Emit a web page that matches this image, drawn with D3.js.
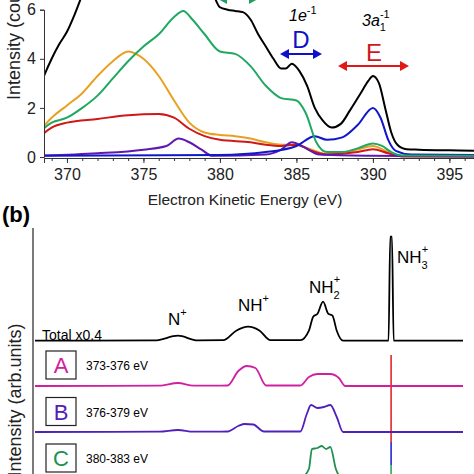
<!DOCTYPE html><html><head><meta charset="utf-8">
<script src="https://cdn.jsdelivr.net/npm/d3@7"></script>
<style>body{margin:0;background:#fff}svg{font-family:"Liberation Sans",Arial,sans-serif}</style>
</head><body><svg id="c" width="474" height="474"></svg>
<script>
// ---- panel (a) data: electron kinetic energy (eV) vs intensity
const xTicksA=[370,375,380,385,390,395];
const yTicksA=[0,2,4,6];
const black=[[368,2.5],[368.5,3.3],[369,4.0],[369.5,4.6],[370,5.1],[370.5,5.8],[371,6.6],[372,8],[376,10],[379,8],[379.6,6.6],[380,6.1],[380.5,6.0],[381,5.95],[381.5,5.9],[382,5.6],[382.5,5.0],[383,4.5],[383.5,4.0],[384,3.6],[384.3,3.6],[384.7,3.8],[385.2,3.5],[385.7,2.9],[386.2,2.0],[386.7,1.5],[387.3,1.2],[387.9,1.35],[388.5,1.9],[389.2,2.6],[389.7,3.1],[390,3.3],[390.4,3.0],[390.8,2.0],[391.2,1.0],[391.6,0.5],[392.2,0.32],[393,0.3],[395,0.27],[397,0.25]];
const green=[[368,0.9],[369,1.4],[370,1.6],[371,2.0],[372,2.5],[373,3.2],[374,3.9],[375,4.5],[376,5.0],[377,5.7],[377.6,5.95],[378.2,5.6],[379,5.0],[380,4.3],[381,4.2],[382,3.7],[383,2.9],[384,2.4],[385,2.3],[385.6,1.8],[386.3,0.6],[387,0.2],[388,0.2],[389,0.35],[390,0.55],[390.6,0.45],[391.2,0.2],[392,0.06],[397,0.05]];
const orange=[[368,0.9],[369,1.6],[370,2.1],[371,2.6],[372,3.3],[373,3.9],[374,4.3],[375,4.0],[376,3.3],[377,2.3],[378,1.4],[379,1.0],[380,0.9],[381,0.85],[382,0.75],[383,0.6],[384,0.5],[385,0.5],[386,0.3],[387,0.12],[388,0.15],[389,0.3],[390,0.45],[391,0.2],[392,0.03],[397,0.02]];
const red=[[368,0.7],[369,1.2],[370,1.4],[372,1.55],[374,1.7],[376,1.75],[377,1.6],[378,1.15],[379,0.85],[380,0.7],[382,0.6],[383,0.5],[384,0.45],[385,0.5],[386,0.25],[387,0.1],[389,0.2],[390,0.32],[391,0.15],[392,0.02],[397,0.02]];
const purple=[[368,0.05],[372,0.15],[375,0.3],[376.5,0.45],[377.3,0.75],[378,0.6],[378.8,0.3],[379.5,0.05],[383,0.1],[384,0.3],[384.7,0.6],[385.5,0.4],[386.5,0.1],[390,0.05],[397,0.02]];
const blue=[[368,0.05],[380,0.08],[383,0.2],[385,0.45],[386.2,0.85],[387,0.7],[388,0.8],[389,1.3],[390,2.0],[390.5,1.6],[391,0.7],[391.5,0.25],[392.5,0.1],[397,0.08]];
const seriesA=[{d:black,c:"#000"},{d:orange,c:"#e8a020"},{d:red,c:"#d01818"},{d:purple,c:"#6018b0"},{d:blue,c:"#1018c8"},{d:green,c:"#20a860"}];
// ---- panel (b) data: flight time (arb.) vs intensity (arb.), offset traces
const total=[[0,0],[28,0.3],[33.4,5],[38,0.3],[44,0.5],[47,10],[49.8,14],[52.5,10],[55,0.5],[62,0.5],[64,10],[65,24],[66,27],[67.3,39],[68.5,27],[69.5,25],[70.5,10],[72,0],[82.6,0],[83,104],[83.4,104],[83.8,0],[100,0]];
const traceA=[[0,0],[29,0.3],[33.4,3],[37,0.3],[45,0.5],[47.5,15],[49.5,20],[51.5,18],[54,0.5],[62,0.5],[64,9],[66,12],[69,12],[71,8],[72.5,0],[100,0]];
const traceB=[[0,0],[29,0.3],[33.4,2],[37,0.3],[45,0.5],[47.5,6],[49,8],[51,7.5],[53.5,0.5],[62,0.5],[63.5,18],[64.5,27],[66,24],[67.5,25],[69,27],[70.5,15],[72,0],[100,0]];
const traceC=[[62,0],[64,10],[64.7,30],[66,31],[67,33],[68,30],[69,32],[70.3,10],[71.5,0]];
const tracesB=[{d:total,c:"#000",base:0},{d:traceA,c:"#d020a0",base:1},{d:traceB,c:"#5020b8",base:2},{d:traceC,c:"#209050",base:3}];
const baseLines=[340.7,386,432,479];
const labelsB=[{t:"A",c:"#d020a0",r:"373-376 eV"},{t:"B",c:"#5020b8",r:"376-379 eV"},{t:"C",c:"#209050",r:"380-383 eV"}];
const nh3Segs=[{y0:355,y1:442,c:"#e01818"},{y0:442,y1:465,c:"#1818d0"},{y0:465,y1:474,c:"#20a050"}];
const ionLab=[{b:"N",s:"",x:168,y:325},{b:"NH",s:"",x:238,y:311},{b:"NH",s:"2",x:309,y:293},{b:"NH",s:"3",x:397,y:263}];

const svg=d3.select("#c");
const x=d3.scaleLinear().domain([368.5,397]).range([44,480]);
const y=d3.scaleLinear().domain([0,6]).range([157,9.7]);
const ga=svg.append("g");
ga.append("clipPath").attr("id","ca").append("rect").attr("x",44).attr("y",0).attr("width",430).attr("height",158);
const line=d3.line().x(d=>x(d[0])).y(d=>y(d[1])).curve(d3.curveMonotoneX);
seriesA.forEach(s=>ga.append("path").attr("d",line(s.d)).attr("fill","none").attr("stroke",s.c).attr("stroke-width",2).attr("clip-path","url(#ca)"));
ga.append("g").attr("transform","translate(0,158)").call(d3.axisBottom(x).tickValues(xTicksA).tickSize(5).tickPadding(6).tickFormat(d3.format("d")));
ga.append("g").attr("transform","translate(0,158)").call(d3.axisBottom(x).ticks(29).tickSize(3).tickFormat(""));
ga.append("g").attr("transform","translate(44,0)").call(d3.axisLeft(y).tickValues(yTicksA).tickSize(4).tickPadding(4).tickFormat(d3.format("d")));
ga.selectAll(".domain,.tick line").attr("stroke","#333");
ga.selectAll(".tick text").attr("font-size",16).attr("fill","#222");
ga.append("text").attr("x",245).attr("y",205).attr("text-anchor","middle").attr("font-size",15.5).attr("fill","#222").text("Electron Kinetic Energy (eV)");
ga.append("text").attr("transform","translate(20,100) rotate(-90)").attr("font-size",18).attr("fill","#222").text("Intensity (counts)");
const ann=ga.append("g");
ann.append("text").attr("x",289).attr("y",21).attr("font-size",16).attr("font-style","italic").html('1<tspan>e</tspan><tspan dy="-7" font-size="11" font-style="normal">-1</tspan>');
ann.append("text").attr("x",362).attr("y",26).attr("font-size",16).attr("font-style","italic").html('3a<tspan dy="5" font-size="11" font-style="normal">1</tspan><tspan dx="-6" dy="-13" font-size="11" font-style="normal">-1</tspan>');
ann.append("text").attr("x",301).attr("y",48).attr("text-anchor","middle").attr("font-size",24).attr("fill","#1010c8").text("D");
ann.append("text").attr("x",374).attr("y",61).attr("text-anchor","middle").attr("font-size",24).attr("fill","#d01818").text("E");
function arrow(x1,x2,yy,c){ann.append("line").attr("x1",x1+6).attr("x2",x2-6).attr("y1",yy).attr("y2",yy).attr("stroke",c).attr("stroke-width",2);
 ann.append("path").attr("d",`M${x1},${yy}l9,-5v10z`).attr("fill",c);ann.append("path").attr("d",`M${x2},${yy}l-9,-5v10z`).attr("fill",c);}
arrow(280,322,54,"#1010c8");arrow(338,409,66,"#e01818");arrow(218,258,-1,"#20a060");
svg.append("text").attr("x",2).attr("y",222).attr("font-size",22).attr("font-weight","bold").text("(b)");
const xb=d3.scaleLinear().domain([0,100]).range([35,463]);
const yb=d3.scaleLinear().domain([0,1]).range([0,-1]);
const gb=svg.append("g");
gb.append("line").attr("x1",33).attr("x2",33).attr("y1",228).attr("y2",474).attr("stroke","#222").attr("stroke-width",1.2);
nh3Segs.forEach(s=>gb.append("line").attr("x1",xb(83.2)).attr("x2",xb(83.2)).attr("y1",s.y0).attr("y2",s.y1).attr("stroke",s.c).attr("stroke-width",1.5));
tracesB.forEach(s=>{const b=baseLines[s.base];
 gb.append("path").attr("d",d3.line().x(d=>xb(d[0])).y(d=>b+yb(d[1])).curve(d3.curveMonotoneX)(s.d)).attr("fill","none").attr("stroke",s.c).attr("stroke-width",1.8);});
gb.append("text").attr("x",42).attr("y",340).attr("font-size",14).text("Total x0.4");
ionLab.forEach(l=>{const t=gb.append("text").attr("x",l.x).attr("y",l.y).attr("font-size",17);
 t.append("tspan").text(l.b);
 if(l.s){t.append("tspan").attr("dy",6).attr("font-size",11).text(l.s);t.append("tspan").attr("dx",-6).attr("dy",-16).attr("font-size",11).text("+");}
 else t.append("tspan").attr("dy",-9).attr("font-size",11).text("+");});
labelsB.forEach((l,i)=>{const top=351+i*46.5;
 gb.append("rect").attr("x",46).attr("y",top).attr("width",30).attr("height",28).attr("fill","#fff").attr("stroke","#222").attr("stroke-width",1.2);
 gb.append("text").attr("x",61).attr("y",top+22).attr("text-anchor","middle").attr("font-size",22).attr("fill",l.c).text(l.t);
 gb.append("text").attr("x",86).attr("y",top+19).attr("font-size",12).text(l.r);});
gb.append("text").attr("transform","translate(21,400) rotate(-90)").attr("text-anchor","middle").attr("font-size",18).attr("fill","#222").text("Intensity (arb.units)");
</script></body></html>
